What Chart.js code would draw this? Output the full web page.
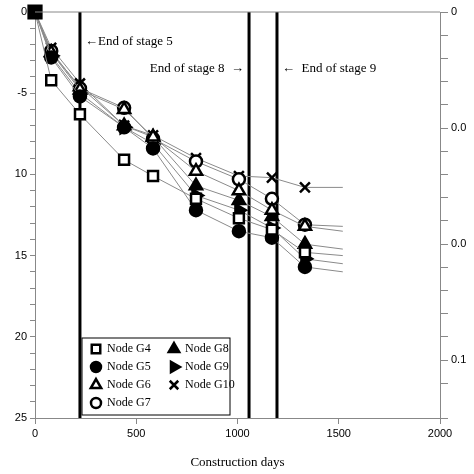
<!DOCTYPE html>
<html>
<head>
<meta charset="utf-8">
<script src="https://cdn.jsdelivr.net/npm/chart.js@4/dist/chart.umd.min.js"></script>
<style>
  html, body { margin: 0; padding: 0; background: #fff; }
  #wrap { width: 474px; height: 474px; }
</style>
</head>
<body>
<div id="wrap"><canvas id="c" width="474" height="474"></canvas></div>
<script>
// measurement days and settlements (cm, downward)
const days = [0, 80, 222, 440, 583, 795, 1007, 1170, 1333];
const endDay = 1520;
const nodeNames = ['Node G4', 'Node G5', 'Node G6', 'Node G7', 'Node G8', 'Node G9', 'Node G10'];
const g4  = [0, 4.2, 6.3, 9.1, 10.1, 11.5, 12.7, 13.4, 14.8];
const g5  = [0, 2.8, 5.2, 7.1, 8.4, 12.2, 13.5, 13.9, 15.7];
const g6  = [0, 2.5, 4.8, 6.0, 7.7, 9.8, 11.0, 12.2, 13.2];
const g7  = [0, 2.4, 4.7, 5.9, 7.8, 9.2, 10.3, 11.5, 13.1];
const g8  = [0, 2.5, 4.6, 7.0, 7.7, 10.7, 11.6, 12.6, 14.3];
const g9  = [0, 2.7, 5.0, 7.1, 8.1, 11.3, 12.2, 13.3, 15.2];
const g10 = [0, 2.2, 4.4, 7.0, 7.6, 9.0, 10.1, 10.2, 10.8];
const endValues = [15.0, 16.0, 13.5, 13.2, 14.6, 15.5, 10.8];
const stageDays = [222, 1057, 1195];
const stageLabels = ['\u2190End of stage 5', 'End of stage 8  \u2192', '\u2190  End of stage 9'];
const xTicks = [0, 500, 1000, 1500, 2000];
const leftLabels = ['0', '-5', '10', '15', '20', '25'];
const rightLabels = ['0', '0.0', '0.0', '0.1'];

const series = [g4, g5, g6, g7, g8, g9, g10];
const styles = [
  { ps: 'rect', fill: '#fff', rot: 0, r: 7 },
  { ps: 'circle', fill: '#000', rot: 0, r: 6 },
  { ps: 'triangle', fill: '#fff', rot: 0, r: 7 },
  { ps: 'circle', fill: '#fff', rot: 0, r: 6 },
  { ps: 'triangle', fill: '#000', rot: 0, r: 7 },
  { ps: 'triangle', fill: '#000', rot: 90, r: 7 },
  { ps: 'crossRot', fill: '#000', rot: 0, r: 7 }
];

const datasets = [];
series.forEach((vals, i) => {
  const pts = days.map((d, k) => ({ x: d, y: -vals[k] }));
  pts.push({ x: endDay, y: -endValues[i] });
  const radii = pts.map((p, k) => k < days.length ? styles[i].r : 0);
  radii[0] = i === 0 ? 9 : 0;
  datasets.push({
    label: nodeNames[i],
    data: pts,
    clip: false,
    borderColor: '#8a8a8a',
    borderWidth: 1,
    pointRadius: radii,
    pointStyle: styles[i].ps,
    pointRotation: styles[i].rot,
    pointBackgroundColor: i === 0 ? pts.map((p, k) => k === 0 ? '#000' : '#fff') : styles[i].fill,
    pointBorderColor: '#000',
    pointBorderWidth: 2.5,
    tension: 0
  });
});
stageDays.forEach(d => {
  datasets.push({
    label: 'stage',
    data: [{ x: d, y: 0 }, { x: d, y: -25 }],
    borderColor: '#000',
    borderWidth: 3,
    pointRadius: 0
  });
});

const decor = {
  id: 'decor',
  afterDraw(chart) {
    const { ctx, chartArea: a, scales } = chart;
    ctx.save();
    ctx.strokeStyle = '#888';
    ctx.lineWidth = 1;
    ctx.beginPath();
    ctx.moveTo(a.left, a.top); ctx.lineTo(a.right, a.top);
    ctx.stroke();
    ctx.fillStyle = '#000';
    ctx.font = '13px "Liberation Serif"';
    ctx.textBaseline = 'middle';
    const x = scales.x, y = scales.y;
    ctx.textAlign = 'left';
    ctx.fillText(stageLabels[0], x.getPixelForValue(stageDays[0]) + 5, y.getPixelForValue(-1.8));
    ctx.textAlign = 'right';
    ctx.fillText(stageLabels[1], x.getPixelForValue(stageDays[1]) - 5, y.getPixelForValue(-3.5));
    ctx.textAlign = 'left';
    ctx.fillText(stageLabels[2], x.getPixelForValue(stageDays[2]) + 5, y.getPixelForValue(-3.5));
    // legend
    const lx = 82, ly = 338, w = 148, h = 77;
    ctx.fillStyle = '#fff';
    ctx.fillRect(lx, ly, w, h);
    ctx.strokeStyle = '#000';
    ctx.lineWidth = 1;
    ctx.strokeRect(lx, ly, w, h);
    ctx.font = '12px "Liberation Serif"';
    nodeNames.forEach((n, i) => {
      const col = i < 4 ? 0 : 1, row = i < 4 ? i : i - 4;
      const px = lx + 14 + col * 78, py = ly + 11 + row * 18;
      ctx.fillStyle = styles[i].fill;
      ctx.strokeStyle = '#000';
      ctx.lineWidth = 2.5;
      Chart.helpers.drawPoint(ctx, { pointStyle: styles[i].ps, rotation: styles[i].rot, radius: styles[i].r - 1, borderWidth: 2.5 }, px, py);
      ctx.fillStyle = '#000';
      ctx.textAlign = 'left';
      ctx.fillText(n, px + 11, py);
    });
    ctx.restore();
  }
};

new Chart(document.getElementById('c'), {
  type: 'line',
  data: { datasets },
  options: {
    responsive: false,
    animation: false,
    layout: { padding: { top: 12 } },
    plugins: { legend: { display: false }, tooltip: { enabled: false } },
    scales: {
      x: {
        type: 'linear', min: 0, max: 2000,
        afterBuildTicks: s => { s.ticks = xTicks.map(v => ({ value: v })); },
        grid: { display: true, drawOnChartArea: false, tickLength: 6, color: '#888' },
        border: { color: '#888' },
        ticks: { color: '#000', font: { family: 'Liberation Sans', size: 11 }, maxRotation: 0, callback: v => String(v) },
        title: { display: true, text: 'Construction days', color: '#000', font: { family: 'Liberation Serif', size: 13 } },
        afterFit: s => { s.height = 56; }
      },
      y: {
        type: 'linear', min: -25, max: 0, position: 'left',
        ticks: {
          stepSize: 1, autoSkip: false, color: '#000', font: { family: 'Liberation Sans', size: 11 },
          callback: v => (v % 5 === 0 ? leftLabels[-v / 5] : '')
        },
        grid: { drawOnChartArea: false, tickLength: 5, color: '#888' },
        border: { color: '#888' },
        afterFit: s => { s.width = 35; }
      },
      y2: {
        type: 'linear', min: -0.175, max: 0, position: 'right',
        ticks: {
          stepSize: 0.01, autoSkip: false, color: '#000', font: { family: 'Liberation Sans', size: 11 },
          callback: (v) => {
            const k = Math.round(-v * 100);
            return k % 5 === 0 ? rightLabels[k / 5] : '';
          }
        },
        grid: { drawOnChartArea: false, tickLength: 8, color: '#888' },
        border: { color: '#888' },
        afterFit: s => { s.width = 34; }
      }
    }
  },
  plugins: [decor]
});
</script>
</body>
</html>
